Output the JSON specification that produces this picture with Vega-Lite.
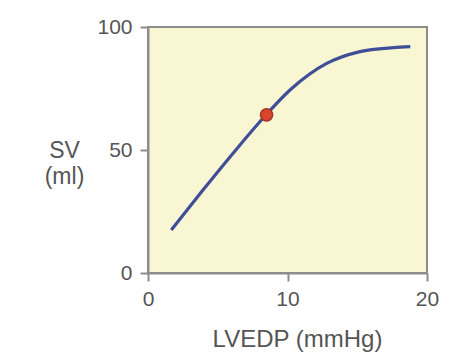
{
  "$schema": "https://vega.github.io/schema/vega-lite/v6.json",
  "autosize": {"type": "none"},
  "padding": {"left": 148, "top": 27, "right": 47, "bottom": 90},
  "width": 279,
  "height": 246,
  "background": "white",
  "view": {"fill": "#f9f6d3", "stroke": "#8c8c8c", "strokeWidth": 2},
  "config": {
    "font": "Liberation Sans",
    "axis": {
      "grid": false,
      "domainColor": "#8c8c8c",
      "domainWidth": 2,
      "tickColor": "#8c8c8c",
      "tickWidth": 2,
      "tickSize": 8,
      "labelFlush": false,
      "labelBound": false,
      "labelOverlap": false,
      "labelFont": "Liberation Sans",
      "labelFontSize": 21,
      "labelColor": "#555555",
      "titleFont": "Liberation Sans",
      "titleFontWeight": "normal",
      "titleColor": "#555555"
    }
  },
  "datasets": {
    "curve": [
      {"lvedp": 1.67, "sv": 17.5},
      {"lvedp": 3.94, "sv": 33.7},
      {"lvedp": 6.1, "sv": 48.7},
      {"lvedp": 8.02, "sv": 61.5},
      {"lvedp": 10.3, "sv": 75.0},
      {"lvedp": 12.81, "sv": 85.2},
      {"lvedp": 15.2, "sv": 90.0},
      {"lvedp": 17.6, "sv": 91.6},
      {"lvedp": 18.8, "sv": 92.0}
    ],
    "dot": [
      {"lvedp": 8.5, "sv": 64.3}
    ]
  },
  "layer": [
    {
      "data": {"name": "curve"},
      "mark": {"type": "line", "color": "#3e4f98", "strokeWidth": 3.2, "interpolate": "monotone"},
      "encoding": {
        "x": {
          "field": "lvedp", "type": "quantitative",
          "scale": {"domain": [0, 20], "nice": false},
          "axis": {
            "values": [0, 10, 20], "title": "LVEDP (mmHg)",
            "labelPadding": 7,
            "titleFontSize": 24,
            "titleX": 149, "titleY": 73, "titleBaseline": "alphabetic", "titleAnchor": "middle"
          }
        },
        "y": {
          "field": "sv", "type": "quantitative",
          "scale": {"domain": [0, 100], "nice": false},
          "axis": {
            "values": [0, 50, 100], "title": ["SV", "(ml)"],
            "labelPadding": 8,
            "titleFontSize": 23,
            "titleAngle": 0, "titleAlign": "center", "titleBaseline": "alphabetic",
            "titleX": -84, "titleY": 130, "titleLineHeight": 26
          }
        }
      }
    },
    {
      "data": {"name": "dot"},
      "mark": {"type": "point", "filled": true, "fill": "#d8452c", "stroke": "#a33422", "strokeWidth": 1.5, "size": 150, "opacity": 1},
      "encoding": {
        "x": {"field": "lvedp", "type": "quantitative"},
        "y": {"field": "sv", "type": "quantitative"}
      }
    }
  ]
}
